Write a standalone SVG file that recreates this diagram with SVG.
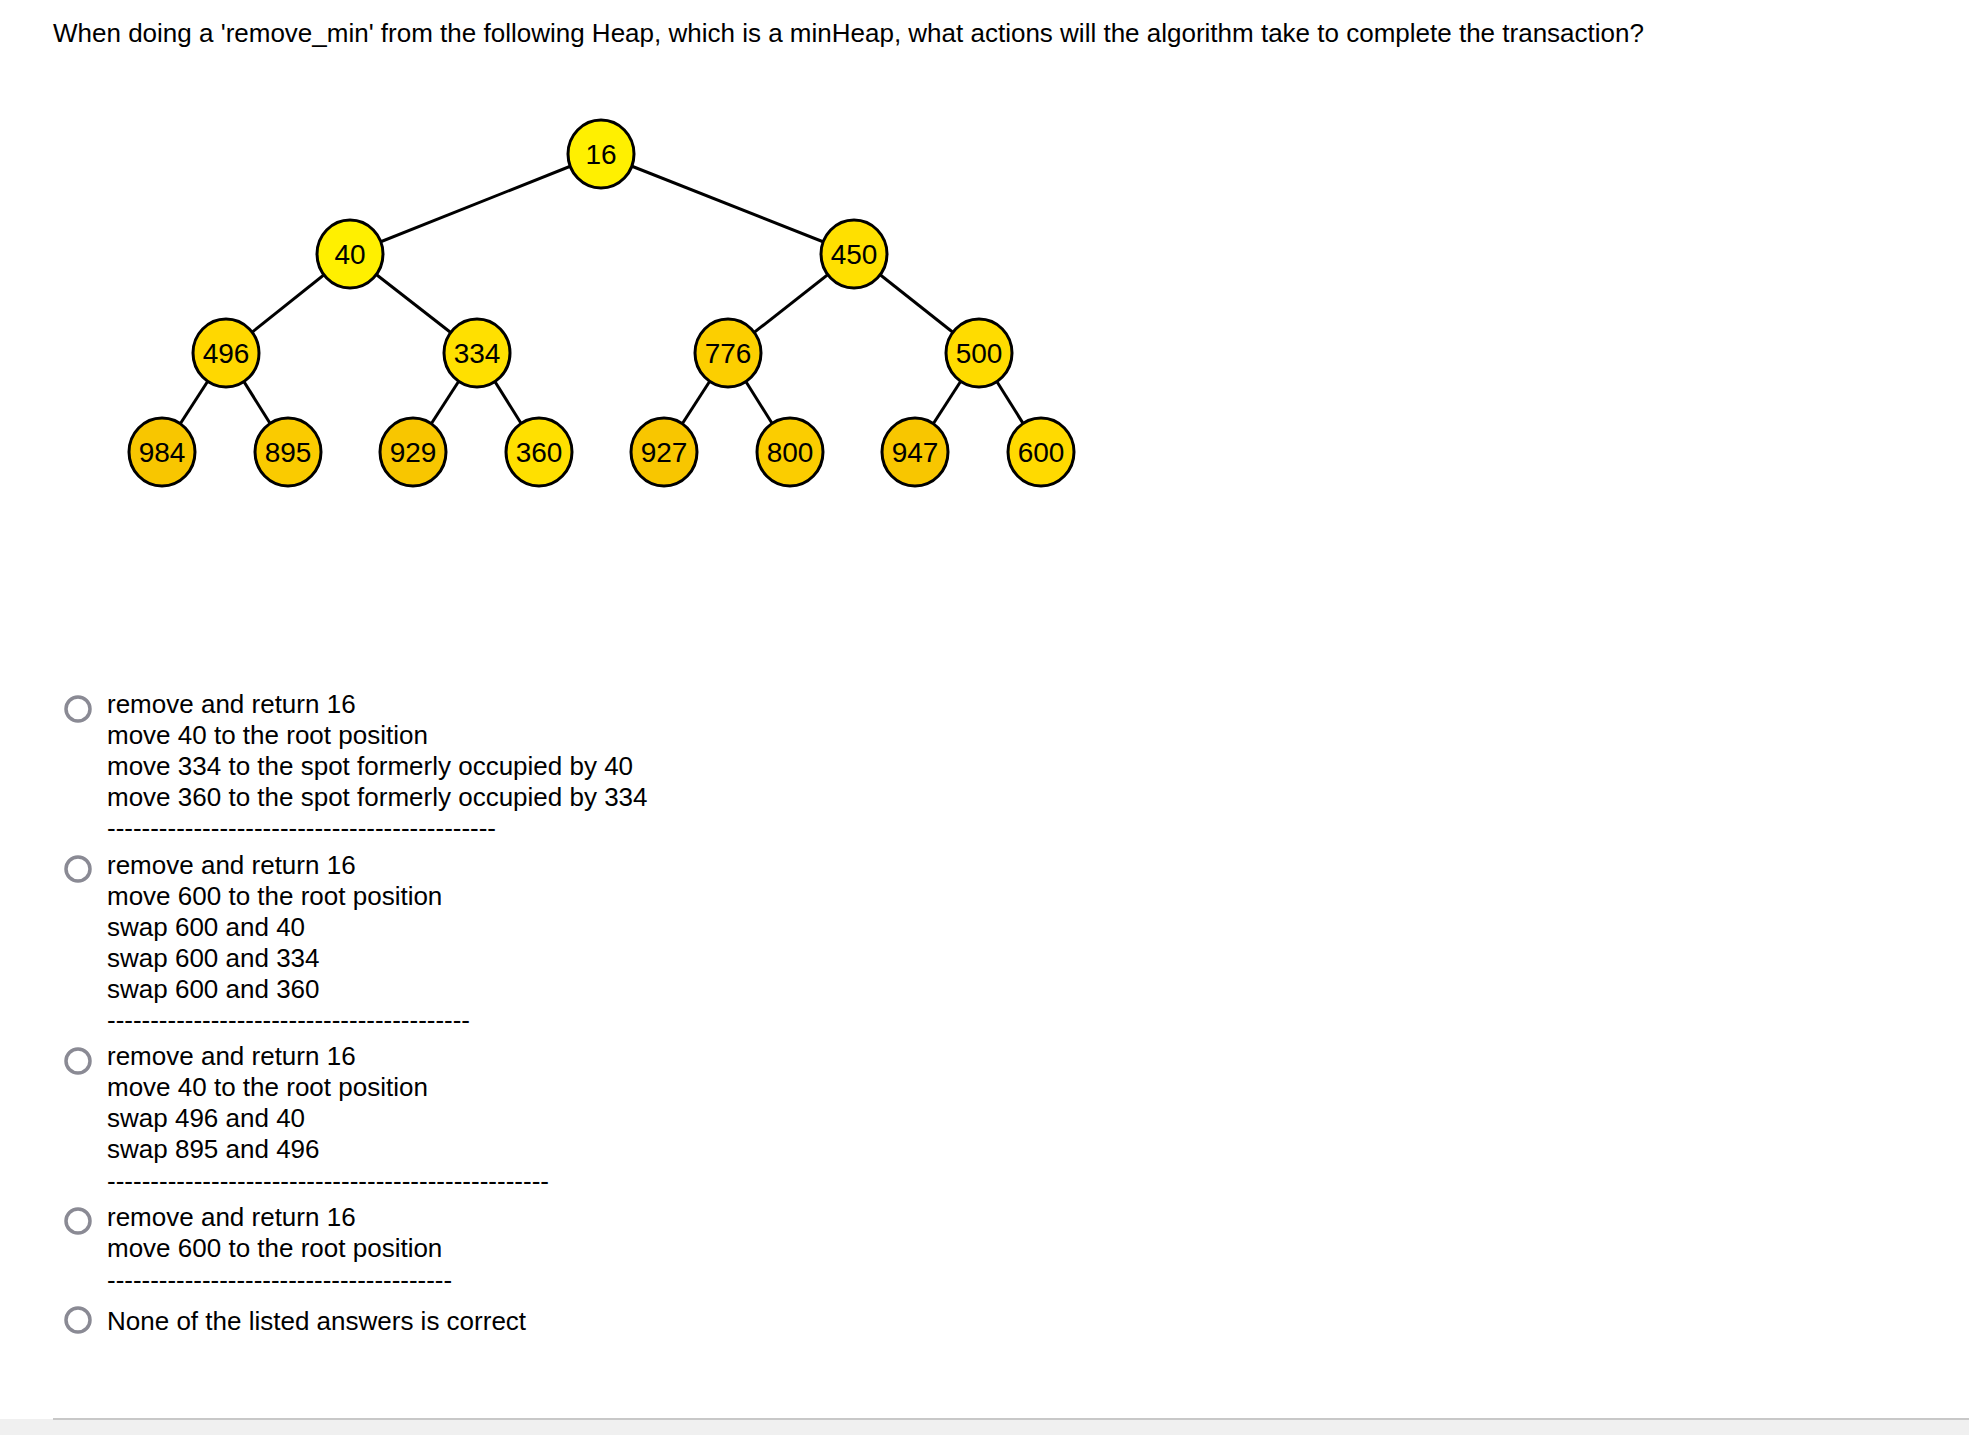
<svg xmlns="http://www.w3.org/2000/svg" width="1969" height="1435" viewBox="0 0 1969 1435">
<style>
text{font-family:"Liberation Sans",Arial,sans-serif;fill:#000}
.q{font-size:26px}
.o{font-size:26px}
.n ellipse{stroke:#000;stroke-width:3}
.n text{font-size:28px;text-anchor:middle}
.e line{stroke:#000;stroke-width:3}
.r{fill:#fff;stroke:#8a8a94;stroke-width:3.5}
</style>
<rect width="1969" height="1435" fill="#fff"/>
<text class="q" x="53" y="42">When doing a 'remove_min' from the following Heap, which is a minHeap, what actions will the algorithm take to complete the transaction?</text>
<g id="connectors" class="e">
<line x1="601" y1="154" x2="350" y2="254"/>
<line x1="601" y1="154" x2="854" y2="254"/>
<line x1="350" y1="254" x2="226" y2="353"/>
<line x1="350" y1="254" x2="477" y2="353"/>
<line x1="854" y1="254" x2="728" y2="353"/>
<line x1="854" y1="254" x2="979" y2="353"/>
<line x1="226" y1="353" x2="162" y2="452"/>
<line x1="226" y1="353" x2="288" y2="452"/>
<line x1="477" y1="353" x2="413" y2="452"/>
<line x1="477" y1="353" x2="539" y2="452"/>
<line x1="728" y1="353" x2="664" y2="452"/>
<line x1="728" y1="353" x2="790" y2="452"/>
<line x1="979" y1="353" x2="915" y2="452"/>
<line x1="979" y1="353" x2="1041" y2="452"/>
</g>
<g id="n16" class="n"><ellipse cx="601" cy="154" rx="33" ry="34" fill="#FFF000"/><text x="601" y="164">16</text></g>
<g id="n40" class="n"><ellipse cx="350" cy="254" rx="33" ry="34" fill="#FFF000"/><text x="350" y="264">40</text></g>
<g id="n450" class="n"><ellipse cx="854" cy="254" rx="33" ry="34" fill="#FFE000"/><text x="854" y="264">450</text></g>
<g id="n496" class="n"><ellipse cx="226" cy="353" rx="33" ry="34" fill="#FFD800"/><text x="226" y="363">496</text></g>
<g id="n334" class="n"><ellipse cx="477" cy="353" rx="33" ry="34" fill="#FFE000"/><text x="477" y="363">334</text></g>
<g id="n776" class="n"><ellipse cx="728" cy="353" rx="33" ry="34" fill="#FCCF00"/><text x="728" y="363">776</text></g>
<g id="n500" class="n"><ellipse cx="979" cy="353" rx="33" ry="34" fill="#FFDC00"/><text x="979" y="363">500</text></g>
<g id="n984" class="n"><ellipse cx="162" cy="452" rx="33" ry="34" fill="#F8C600"/><text x="162" y="462">984</text></g>
<g id="n895" class="n"><ellipse cx="288" cy="452" rx="33" ry="34" fill="#FACB00"/><text x="288" y="462">895</text></g>
<g id="n929" class="n"><ellipse cx="413" cy="452" rx="33" ry="34" fill="#F8C600"/><text x="413" y="462">929</text></g>
<g id="n360" class="n"><ellipse cx="539" cy="452" rx="33" ry="34" fill="#FFE000"/><text x="539" y="462">360</text></g>
<g id="n927" class="n"><ellipse cx="664" cy="452" rx="33" ry="34" fill="#F8C600"/><text x="664" y="462">927</text></g>
<g id="n800" class="n"><ellipse cx="790" cy="452" rx="33" ry="34" fill="#FBCD00"/><text x="790" y="462">800</text></g>
<g id="n947" class="n"><ellipse cx="915" cy="452" rx="33" ry="34" fill="#F8C600"/><text x="915" y="462">947</text></g>
<g id="n600" class="n"><ellipse cx="1041" cy="452" rx="33" ry="34" fill="#FFDA00"/><text x="1041" y="462">600</text></g>

<circle class="r" cx="78" cy="709" r="12"/>
<text class="o" x="107" y="713">remove and return 16</text>
<text class="o" x="107" y="744">move 40 to the root position</text>
<text class="o" x="107" y="775">move 334 to the spot formerly occupied by 40</text>
<text class="o" x="107" y="806">move 360 to the spot formerly occupied by 334</text>
<text class="o" x="107" y="837" textLength="389" lengthAdjust="spacingAndGlyphs">---------------------------------------------</text>

<circle class="r" cx="78" cy="869" r="12"/>
<text class="o" x="107" y="874">remove and return 16</text>
<text class="o" x="107" y="905">move 600 to the root position</text>
<text class="o" x="107" y="936">swap 600 and 40</text>
<text class="o" x="107" y="967">swap 600 and 334</text>
<text class="o" x="107" y="998">swap 600 and 360</text>
<text class="o" x="107" y="1029" textLength="363" lengthAdjust="spacingAndGlyphs">------------------------------------------</text>

<circle class="r" cx="78" cy="1061" r="12"/>
<text class="o" x="107" y="1065">remove and return 16</text>
<text class="o" x="107" y="1096">move 40 to the root position</text>
<text class="o" x="107" y="1127">swap 496 and 40</text>
<text class="o" x="107" y="1158">swap 895 and 496</text>
<text class="o" x="107" y="1190" textLength="442" lengthAdjust="spacingAndGlyphs">---------------------------------------------------</text>

<circle class="r" cx="78" cy="1221" r="12"/>
<text class="o" x="107" y="1226">remove and return 16</text>
<text class="o" x="107" y="1257">move 600 to the root position</text>
<text class="o" x="107" y="1289" textLength="345" lengthAdjust="spacingAndGlyphs">----------------------------------------</text>

<circle class="r" cx="78" cy="1320" r="12"/>
<text class="o" x="107" y="1330">None of the listed answers is correct</text>

<rect x="0" y="1419" width="1969" height="16" fill="#f0f0f0"/>
<line x1="53" y1="1419" x2="1969" y2="1419" stroke="#c8c8c8" stroke-width="2"/>
</svg>
